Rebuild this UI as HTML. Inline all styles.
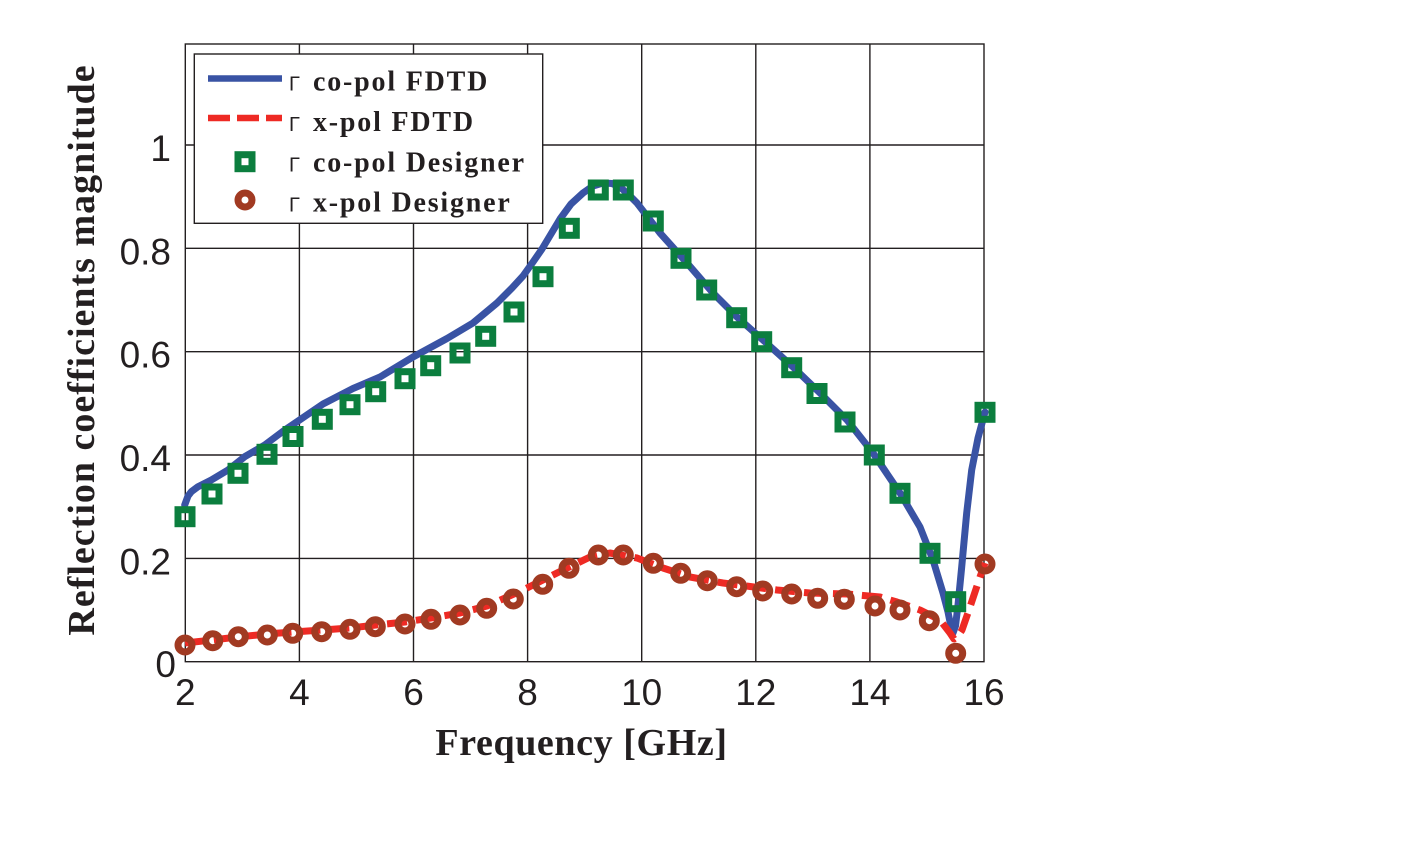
<!DOCTYPE html>
<html>
<head>
<meta charset="utf-8">
<style>
html,body{margin:0;padding:0;background:#fff;}
svg{display:block;}
</style>
</head>
<body>
<svg width="1407" height="852" viewBox="0 0 1407 852" xmlns="http://www.w3.org/2000/svg">
<rect x="0" y="0" width="1407" height="852" fill="#fff"/>
<!-- grid -->
<g stroke="#231f20" stroke-width="1.4" fill="none">
<line x1="299.4" y1="44" x2="299.4" y2="661.7"/>
<line x1="413.5" y1="44" x2="413.5" y2="661.7"/>
<line x1="527.6" y1="44" x2="527.6" y2="661.7"/>
<line x1="641.7" y1="44" x2="641.7" y2="661.7"/>
<line x1="755.8" y1="44" x2="755.8" y2="661.7"/>
<line x1="869.9" y1="44" x2="869.9" y2="661.7"/>
<line x1="185.3" y1="558.4" x2="984" y2="558.4"/>
<line x1="185.3" y1="455" x2="984" y2="455"/>
<line x1="185.3" y1="351.7" x2="984" y2="351.7"/>
<line x1="185.3" y1="248.3" x2="984" y2="248.3"/>
<line x1="185.3" y1="145" x2="984" y2="145"/>
<rect x="185.3" y="44" width="798.7" height="617.7"/>
</g>
<!-- tick labels -->
<g font-family="Liberation Sans, sans-serif" font-size="37" fill="#231f20" text-anchor="middle">
<text x="185.3" y="705">2</text>
<text x="299.4" y="705">4</text>
<text x="413.5" y="705">6</text>
<text x="527.6" y="705">8</text>
<text x="641.7" y="705">10</text>
<text x="755.8" y="705">12</text>
<text x="869.9" y="705">14</text>
<text x="984" y="705">16</text>
</g>
<g font-family="Liberation Sans, sans-serif" font-size="37" fill="#231f20" text-anchor="end">
<text x="176" y="677">0</text>
<text x="171" y="574.5">0.2</text>
<text x="171" y="471">0.4</text>
<text x="171" y="367.7">0.6</text>
<text x="171" y="264.3">0.8</text>
<text x="171" y="161">1</text>
</g>
<!-- axis labels -->
<text x="581.5" y="755" text-anchor="middle" font-family="Liberation Serif, serif" font-weight="bold" font-size="38" letter-spacing="0.6" fill="#231f20">Frequency [GHz]</text>
<text transform="translate(94,350) rotate(-90)" x="0" y="0" text-anchor="middle" font-family="Liberation Serif, serif" font-weight="bold" font-size="38" letter-spacing="1" fill="#231f20">Reflection coefficients magnitude</text>

<!-- blue co-pol FDTD -->
<polyline fill="none" stroke="#3953a4" stroke-width="7" stroke-linejoin="round" stroke-linecap="round"
points="184.7,505 188,496 191.3,491.7 198,486.7 211.3,480 228,470 244.7,456.7 264.7,445 284.7,430 294.7,423.3 323,404 353,388.5 380,377 413,357 447,338.5 473,323 497,303 512,288 523,276 533,262 542,249 551,234 560,219 571,204 583,193 593,186 603,183 612,183.5 620,187 628,194 637,203 660,233 687,263 713,293 737,317 763,340 793,367 820,393 840,413 847,420 873,453 900,493 920,527 933,560 943,593 948,612 951,627 953,633 955.5,626 958,605 961.7,567 966.7,513 971.7,470 978,438 985,412"/>
<!-- red x-pol FDTD -->
<polyline fill="none" stroke="#ee2a24" stroke-width="7" stroke-dasharray="20 9" stroke-linejoin="round"
points="185,643 212,640 238,637 267,634 293,632 322,630 350,628 376,625 405,622 431,618 460,613 487,606 523,590 557,573 590,557 610,553 637,558 663,568 690,577 723,583 777,590 810,593 847,594 880,597 897,602 920,610 940,620 950,633 954,639 958,636 962,630 970,607 980,577 985,563"/>
<!-- green squares -->
<g fill="none" stroke="#0b7e3e" stroke-width="7">
<rect x="178" y="509.7" width="14" height="14"/>
<rect x="205" y="487" width="14" height="14"/>
<rect x="231" y="466.3" width="14" height="14"/>
<rect x="260" y="447.3" width="14" height="14"/>
<rect x="286" y="429.5" width="14" height="14"/>
<rect x="315.3" y="412.3" width="14" height="14"/>
<rect x="343" y="397.7" width="14" height="14"/>
<rect x="368.7" y="384.7" width="14" height="14"/>
<rect x="398" y="371.7" width="14" height="14"/>
<rect x="423.7" y="358.7" width="14" height="14"/>
<rect x="453" y="346" width="14" height="14"/>
<rect x="478.7" y="329.3" width="14" height="14"/>
<rect x="507" y="305" width="14" height="14"/>
<rect x="536" y="269.7" width="14" height="14"/>
<rect x="562.3" y="221.3" width="14" height="14"/>
<rect x="591.3" y="183" width="14" height="14"/>
<rect x="616.3" y="183" width="14" height="14"/>
<rect x="646.3" y="214" width="14" height="14"/>
<rect x="674" y="251.3" width="14" height="14"/>
<rect x="699.7" y="283" width="14" height="14"/>
<rect x="729.7" y="310.7" width="14" height="14"/>
<rect x="754.7" y="334.7" width="14" height="14"/>
<rect x="784.7" y="360.7" width="14" height="14"/>
<rect x="810" y="386.5" width="14" height="14"/>
<rect x="838" y="415" width="14" height="14"/>
<rect x="867.3" y="448" width="14" height="14"/>
<rect x="893" y="486.3" width="14" height="14"/>
<rect x="923" y="546.3" width="14" height="14"/>
<rect x="948.7" y="594.7" width="14" height="14"/>
<rect x="978" y="405.3" width="14" height="14"/>
</g>
<!-- brown circles -->
<g fill="none" stroke="#a13a22" stroke-width="7">
<circle cx="185" cy="645" r="7"/>
<circle cx="212.7" cy="640.7" r="7"/>
<circle cx="238.3" cy="636.7" r="7"/>
<circle cx="267.3" cy="635" r="7"/>
<circle cx="292.7" cy="633.3" r="7"/>
<circle cx="321.7" cy="631.7" r="7"/>
<circle cx="350" cy="629.3" r="7"/>
<circle cx="375.3" cy="626.7" r="7"/>
<circle cx="405" cy="624" r="7"/>
<circle cx="431" cy="619.3" r="7"/>
<circle cx="460" cy="615" r="7"/>
<circle cx="486.7" cy="608.3" r="7"/>
<circle cx="513.3" cy="599" r="7"/>
<circle cx="542.7" cy="584.3" r="7"/>
<circle cx="569" cy="568.3" r="7"/>
<circle cx="598.3" cy="555" r="7"/>
<circle cx="623.3" cy="555" r="7"/>
<circle cx="653.3" cy="563.3" r="7"/>
<circle cx="680.7" cy="573.3" r="7"/>
<circle cx="707.3" cy="580.7" r="7"/>
<circle cx="736.7" cy="586.7" r="7"/>
<circle cx="762.7" cy="591" r="7"/>
<circle cx="791.7" cy="594" r="7"/>
<circle cx="817.7" cy="598.3" r="7"/>
<circle cx="844.3" cy="599.3" r="7"/>
<circle cx="875" cy="606" r="7"/>
<circle cx="900" cy="610" r="7"/>
<circle cx="929.3" cy="620.7" r="7"/>
<circle cx="955.7" cy="653.3" r="7"/>
<circle cx="985" cy="564" r="7"/>
</g>

<!-- legend -->
<rect x="194.3" y="54" width="348.4" height="169.3" fill="#fff" stroke="#231f20" stroke-width="1.4"/>
<line x1="208" y1="78.5" x2="282" y2="78.5" stroke="#3953a4" stroke-width="6.5"/>
<line x1="208" y1="118" x2="282" y2="118" stroke="#ee2a24" stroke-width="6.5" stroke-dasharray="22 7"/>
<rect x="238" y="154.7" width="14" height="14" fill="none" stroke="#0b7e3e" stroke-width="7"/>
<circle cx="245" cy="200" r="7" fill="none" stroke="#a13a22" stroke-width="7"/>
<g font-family="Liberation Sans, sans-serif" font-size="20" fill="#231f20">
<text x="289" y="90.5">Γ</text>
<text x="289" y="131">Γ</text>
<text x="289" y="171.5">Γ</text>
<text x="289" y="211.5">Γ</text>
</g>
<g font-family="Liberation Serif, serif" font-weight="bold" font-size="28" letter-spacing="1.8" fill="#231f20">
<text x="313" y="90.5">co-pol FDTD</text>
<text x="313" y="131">x-pol FDTD</text>
<text x="313" y="171.5">co-pol Designer</text>
<text x="313" y="211.5">x-pol Designer</text>
</g>
</svg>
</body>
</html>
